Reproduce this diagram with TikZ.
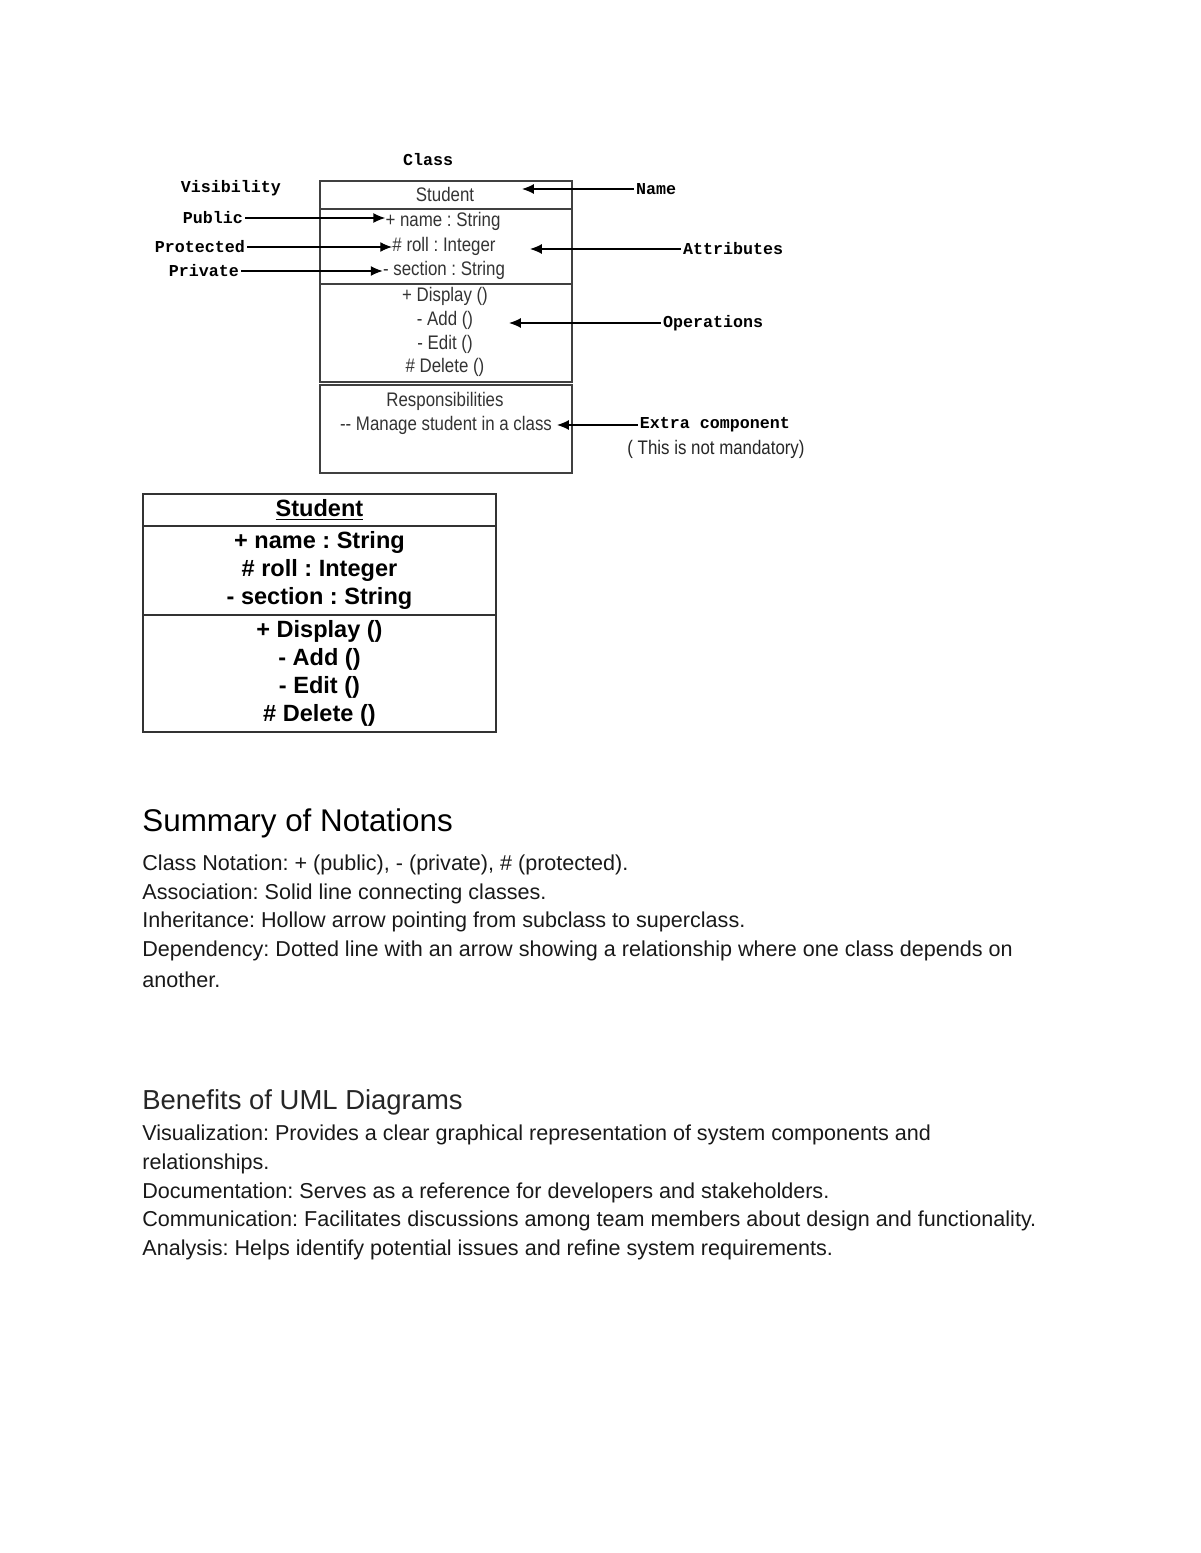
\documentclass[tikz,border=0pt]{standalone}
\usepackage{fontspec}
\setmainfont{Liberation Sans}
\newfontfamily\narrowfont[FakeStretch=0.86]{Liberation Sans}
\newfontfamily\labelfont{Liberation Mono}
\usetikzlibrary{arrows.meta, positioning}
\frenchspacing

\begin{document}
\begin{tikzpicture}[
    x=0.51pt, y=-0.51pt,
    umltext/.style={
        inner sep=0pt,
        text=black!80,
        font=\narrowfont\fontsize{10}{12}\selectfont
    },
    tag/.style={
        inner sep=1pt,
        font=\labelfont\bfseries\fontsize{8.5}{10}\selectfont
    },
    compart/.style={
        rectangle,
        draw=black!75,
        line width=1pt,
        minimum width=128.5pt,
        inner sep=0pt,
        outer sep=0pt
    },
    classbox/.style={
        rectangle,
        draw=black!80,
        line width=0.8pt,
        minimum width=180pt,
        inner sep=0pt,
        outer sep=0pt,
        align=center,
        font=\bfseries\fontsize{12}{14.3}\selectfont
    },
    heading/.style={inner sep=0pt, anchor=west, font=\fontsize{16}{19}\selectfont},
    subheading/.style={inner sep=0pt, anchor=west, text=black!85, font=\fontsize{14}{17}\selectfont},
    bodyline/.style={inner sep=0pt, anchor=west, text=black!90, font=\fontsize{11}{13}\selectfont},
    arrow/.style={-{Latex[length=6pt, width=5pt]}, line width=0.6pt}
]

    \fill[white] (0,0) rectangle (1200,1553);
    \useasboundingbox (0,0) rectangle (1200,1553);

    % Annotated class: compartments stacked one below the other
    \node [compart, minimum height=14.3pt, anchor=north west] (topname) at (320,181) {};
    \node [compart, minimum height=38.3pt, below=0pt of topname] (topattr) {};
    \node [compart, minimum height=50pt, below=0pt of topattr] (topops) {};
    \node [compart, minimum height=44.9pt, below=1.5pt of topops] (topresp) {};

    \node [umltext] (tstudent) at (445,194) {Student};
    \node [umltext] (tname) at (443,221) {+ name : String};
    \node [umltext] (troll) at (444,246) {\# roll : Integer};
    \node [umltext] (tsection) at (444,270) {- section : String};
    \node [umltext] (tdisplay) at (445,296) {+ Display ()};
    \node [umltext] (tadd) at (445,320) {- Add ()};
    \node [umltext] (tedit) at (445,344) {- Edit ()};
    \node [umltext] (tdelete) at (445,367) {\# Delete ()};
    \node [umltext] (tresp) at (445,401) {Responsibilities};
    \node [umltext] (tmanage) at (446,425) {{-}{-} Manage student in a class};

    % Labels round the class
    \node [tag] (class) at (428,160) {Class};
    \node [tag] (visibility) at (231,188) {Visibility};
    \node [tag] (public) at (213,218) {Public};
    \node [tag] (protected) at (200,247) {Protected};
    \node [tag] (private) at (204,271) {Private};
    \node [tag] (name) at (656,189) {Name};
    \node [tag] (attributes) at (733,249) {Attributes};
    \node [tag] (operations) at (713,323) {Operations};
    \node [tag] (extra) at (715,425) {Extra component};
    \node [umltext, text=black!85] (note) at (716,449) {( This is not mandatory)};

    \coordinate (nametip) at (522,189);
    \coordinate (attrtip) at (530,249);
    \coordinate (opstip) at (509,323);
    \coordinate (resptip) at (557,425);

    % Draw Directed Connections
    \draw [arrow] (public) -- (public -| tname.west);
    \draw [arrow] (protected) -- (protected -| troll.west);
    \draw [arrow] (private) -- (private -| tsection.west);
    \draw [arrow] (name) -- (nametip);
    \draw [arrow] (attributes) -- (attrtip);
    \draw [arrow] (operations) -- (opstip);
    \draw [arrow] (extra) -- (resptip);

    % Plain class box
    \node [classbox, minimum height=16.3pt, anchor=north west] (stname) at (143,494) {\underline{Student}};
    \node [classbox, minimum height=45.4pt, below=0pt of stname] (stattr) {+ name : String\\\# roll : Integer\\- section : String};
    \node [classbox, minimum height=59.7pt, below=0pt of stattr] (stops) {+ Display ()\\- Add ()\\- Edit ()\\\# Delete ()};

    % Summary of notations
    \node [heading] (sumhead) at (142,823) {Summary of Notations};
    \node [bodyline] (sum1) at (142,865) {Class Notation: + (public), - (private), \# (protected).};
    \node [bodyline] (sum2) at (142,894) {Association: Solid line connecting classes.};
    \node [bodyline] (sum3) at (142,922) {Inheritance: Hollow arrow pointing from subclass to superclass.};
    \node [bodyline] (sum4) at (142,951) {Dependency: Dotted line with an arrow showing a relationship where one class depends on};
    \node [bodyline] (sum5) at (142,980) {another.};

    % Benefits
    \node [subheading] (benhead) at (142,1102) {Benefits of UML Diagrams};
    \node [bodyline] (ben1) at (142,1135) {Visualization: Provides a clear graphical representation of system components and};
    \node [bodyline] (ben2) at (142,1164) {relationships.};
    \node [bodyline] (ben3) at (142,1193) {Documentation: Serves as a reference for developers and stakeholders.};
    \node [bodyline] (ben4) at (142,1221) {Communication: Facilitates discussions among team members about design and functionality.};
    \node [bodyline] (ben5) at (142,1250) {Analysis: Helps identify potential issues and refine system requirements.};

\end{tikzpicture}
\end{document}
